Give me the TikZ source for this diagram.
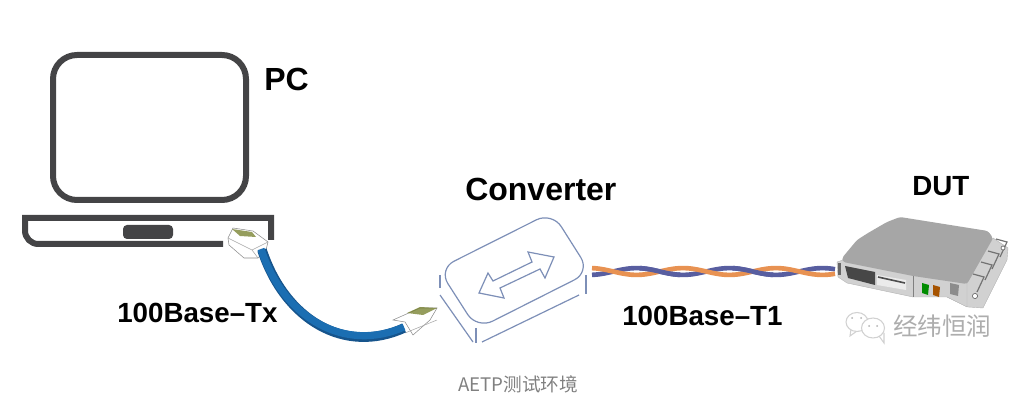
\documentclass[tikz,border=0pt]{standalone}
\usepackage{fontspec}
\usetikzlibrary{calc}
\setmainfont{Liberation Sans}
\newfontfamily\cjkfont{Noto Sans CJK SC}
\definecolor{laptopgrey}{RGB}{68,68,70}
\definecolor{convblue}{RGB}{125,143,183}
\definecolor{pairorange}{RGB}{232,146,82}
\definecolor{pairblue}{RGB}{88,94,160}
\definecolor{cableblue}{RGB}{27,110,178}
\definecolor{cabledark}{RGB}{22,84,140}
\tikzset{
	laptopline/.style={draw=laptopgrey,line width=4.5pt},
	convline/.style={draw=convblue,line width=0.9pt},
	plugline/.style={draw=black!45,line width=0.4pt,fill=white},
	pairline/.style={line width=3.5pt},
	duttop/.style={fill=black!35,draw=none},
	dutside/.style={fill=black!18,draw=black!30,line width=0.3pt},
	dutfin/.style={draw=black!55,line width=0.9pt},
	biglabel/.style={anchor=north west,inner sep=0.75pt,font=\fontsize{24}{28}\selectfont\bfseries},
	midlabel/.style={anchor=north west,inner sep=0.75pt,font=\fontsize{20.8}{25}\selectfont\bfseries},
	bubble/.style={draw=black!18,fill=white,line width=0.8pt},
}
\begin{document}
\begin{tikzpicture}[x=0.75pt,y=0.75pt,yscale=-1,xscale=1]
		\useasboundingbox (0,0) rectangle (1024,409);

		%Shape: Laptop screen
		\draw [laptopline,rounded corners=18pt] (53,55) -- (246,55) -- (246,200) -- (53,200) -- cycle ;
		%Straight Lines: laptop base
		\draw [laptopline] (271,240) -- (271,218) -- (25,218) {[rounded corners=10pt] -- (25,244) -- (223,244)} ;
		%Shape: Trackpad
		\draw [draw=none,fill=laptopgrey,rounded corners=3pt] (123,225) -- (173,225) -- (173,239) -- (123,239) -- cycle ;

		%Shape: Plug at the laptop
		\draw [plugline] (228,238) -- (233,228) -- (253,231) -- (268,242) -- (266,250) -- (258,258) -- (244,258) -- (229,245) -- cycle ;
		\draw [draw=none,fill=pairorange!70!green!70!black,opacity=0.75] (232,229) -- (252,232) -- (256,237) -- (240,236) -- cycle ;
		\draw [draw=black!35,line width=0.4pt] (228,238) -- (252,250) -- (268,242) (252,250) -- (258,258) ;
		%Shape: Plug at the converter
		\draw [plugline] (393,320) -- (420,308) -- (437,308) -- (430,320) -- (413,335) -- (405,322) -- cycle ;
		\draw [draw=none,fill=pairorange!70!green!70!black,opacity=0.75] (407,313) -- (420,307) -- (437,308) -- (423,315) -- cycle ;
		\draw [draw=black!35,line width=0.4pt] (405,333) -- (437,320) ;

		\coordinate (plugpc) at (262,250);
		\coordinate (plugconv) at (404,328);
		%Curve Lines: patch cable
		\draw [cabledark,line width=7.2pt] (plugpc) .. controls (285,320) and (345,355) .. (plugconv) ;
		\draw [cableblue,line width=5.4pt] ($(plugpc)+(-1,-1)$) .. controls (284,319) and (345,353) .. ($(plugconv)+(0,-1)$) ;

		%Shape: Converter top face
		\draw [convline,rounded corners=13pt] (438.5,269) -- (552,212) -- (590,272) -- (477,329) -- cycle ;
		%Straight Lines: converter sides
		\draw [convline] (440,275) -- (440,288) ;
		\draw [convline] (440,295) -- (473,342) ;
		\draw [convline] (476,328) -- (476,343) ;
		\draw [convline] (482,342) -- (579,295) ;
		\draw [convline] (586,275) -- (586,294) ;
		%Shape: Double arrow
		\draw [convline] (479,293) -- (488,273) -- (493,281) -- (532,262) -- (528,252) -- (554,257) -- (545,278) -- (540,269) -- (500,288) -- (504,298) -- cycle ;

		%Curve Lines: twisted pair
		\draw [pairblue,pairline] plot [domain=592:835,samples=90] (\x,{271.5+3.4*cos(3.871*(\x-590))}) ;
		\draw [pairorange,pairline] plot [domain=592:835,samples=90] (\x,{271.5-3.4*cos(3.871*(\x-590))}) ;
		\foreach \startx/\endx in {640/680,733/773} {
			\draw [pairblue,pairline] plot [domain=\startx:\endx,samples=20] (\x,{271.5+3.4*cos(3.871*(\x-590))}) ;
		}

		%Shape: DUT side with fins
		\draw [dutside] (993,238) -- (1008,248) -- (1007,260) -- (983,308) -- (968,307) -- (947,297) -- (967,283) -- cycle ;
		\foreach \finx/\finy in {0/0,8/-12,15/-23,23/-35} {
			\draw [dutfin] (973+\finx,274+\finy) -- (984+\finx,277+\finy) -- (977+\finx,292+\finy) ;
		}
		\draw [fill=white,draw=black!60,line width=0.5pt] (975,296) circle [radius=2.6] ;
		\draw [fill=white,draw=black!60,line width=0.5pt] (1003,248) circle [radius=2] ;
		%Shape: DUT front
		\draw [dutside] (837,262) -- (843,260) -- (913,275) -- (967,283) -- (967,307) -- (947,297) -- (913,297) -- (847,283) -- (838,277) -- cycle ;
		%Shape: DUT top
		\draw [duttop,rounded corners=2pt] (842,258) -- (857,240) -- (868,233) -- (887,222) -- (900,217) -- (988,231) -- (993,238) -- (967,284) -- (913,276) -- (843,262) -- cycle ;
		%Shape: DUT connectors
		\draw [draw=none,fill=black!72] (845,266) -- (875,272) -- (875,285) -- (848,278) -- cycle ;
		\draw [draw=none,fill=black!8] (877,275) -- (906,280) -- (906,290) -- (877,285) -- cycle ;
		\draw [draw=black!70,line width=1.2pt] (878,277) -- (905,283) ;
		\draw [draw=black!50,line width=0.6pt] (913,276) -- (913,297) ;
		\draw [draw=none,fill=green!55!black] (922,283) -- (929,285) -- (928,295) -- (922,293) -- cycle ;
		\draw [draw=none,fill=orange!65!black] (933,285) -- (940,287) -- (939,297) -- (933,295) -- cycle ;
		\draw [draw=none,fill=black!45] (950,283) -- (959,285) -- (958,296) -- (950,294) -- cycle ;
		\draw [draw=none,fill=black!60] (838,263) -- (841,263) -- (841,275) -- (838,275) -- cycle ;

		%Shape: Chat bubbles
		\draw [bubble] (851,329) -- (850,336) -- (857,331) ;
		\draw [bubble] (857,322) ellipse [x radius=11,y radius=9.5] ;
		\draw [bubble] (879,336) -- (884,343) -- (884,333) ;
		\draw [bubble] (873,328) ellipse [x radius=11.5,y radius=10] ;
		\foreach \dotx/\doty in {852/318,861/318,869/326,877/326} {
			\fill [black!30] (\dotx,\doty) circle [radius=1] ;
		}

		% Text Node
		\draw (263,67) node (pclabel) [biglabel] {PC};
		% Text Node
		\draw (464,177) node (convlabel) [biglabel] {Converter};
		% Text Node
		\draw (911,175) node (dutlabel) [midlabel] {DUT};
		% Text Node
		\draw (116,302) node (txlabel) [midlabel] {100Base--Tx};
		% Text Node
		\draw (621,305) node (t1label) [midlabel] {100Base--T1};
		% Text Node
		\draw (892,314) node (marklabel) [anchor=north west,inner sep=0.75pt,font=\cjkfont\fontsize{18.4}{22}\selectfont,text=black!32] {经纬恒润};
		% Text Node
		\draw (457,374) node (caption) [anchor=north west,inner sep=0.75pt,font=\cjkfont\fontsize{14}{16}\selectfont,text=black!50] {AETP测试环境};

		\end{tikzpicture}
\end{document}
